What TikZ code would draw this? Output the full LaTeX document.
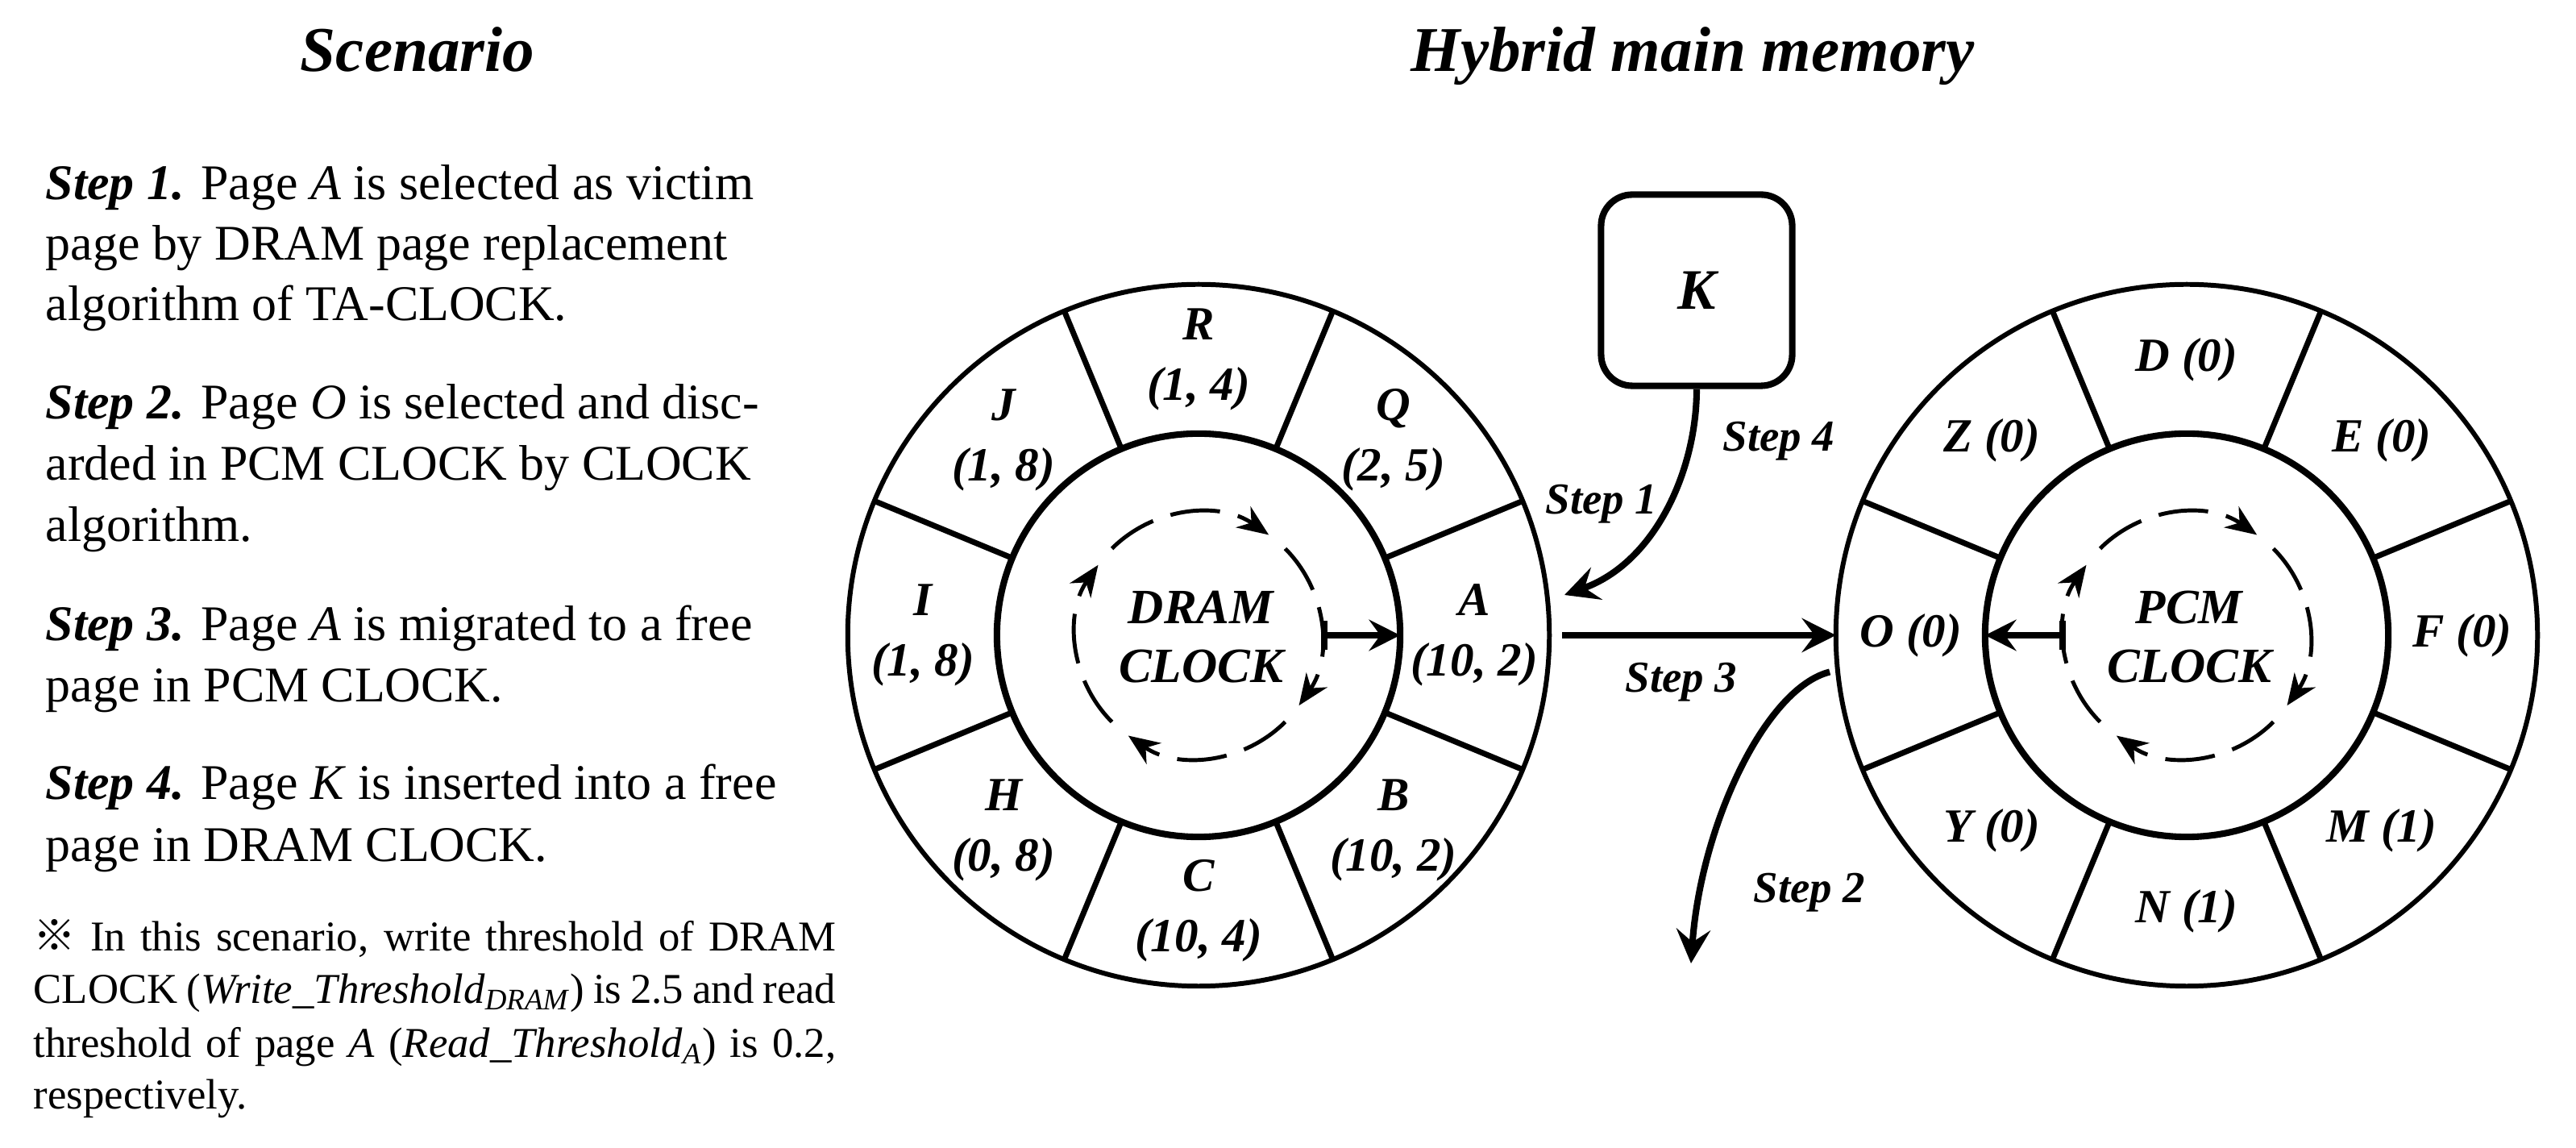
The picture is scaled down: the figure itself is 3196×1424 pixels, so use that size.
\documentclass[tikz,border=0pt]{standalone}
\usepackage{fontspec}
\setmainfont{Liberation Serif}
\newfontfamily\cjkfont{Noto Sans CJK SC}
\usetikzlibrary{arrows.meta}
\newcommand{\mystep}[1]{\textbf{\textit{#1}}}
\newcommand{\noteline}[1]{\makebox[9.95cm][s]{#1}}
\begin{document}
\begin{tikzpicture}[x=0.01cm,y=0.01cm,
  titlefont/.style={inner sep=0, anchor=base, font=\fontsize{22.5pt}{27pt}\selectfont\bfseries\itshape},
  bodyline/.style={anchor=base west, inner sep=0, font=\fontsize{17.6pt}{21.6pt}\selectfont},
  notestyle/.style={anchor=base west, inner sep=0, font=\fontsize{15pt}{18.5pt}\selectfont},
  seglabel/.style={inner sep=0, align=center, font=\fontsize{16.8pt}{21.3pt}\selectfont\bfseries\itshape},
  centerlabel/.style={inner sep=0, align=center, font=\fontsize{17.4pt}{20.8pt}\selectfont\bfseries\itshape},
  steplabel/.style={inner sep=0, font=\fontsize{15.6pt}{18pt}\selectfont\bfseries\itshape},
  outerring/.style={circle, draw, line width=1.7pt, minimum size=8.7cm, inner sep=0, outer sep=0},
  innerring/.style={circle, draw, line width=2.3pt, minimum size=5cm, inner sep=0, outer sep=0},
  divider/.style={line width=2pt},
  dashring/.style={line width=1.4pt, dash pattern=on 17.6pt off 6.5pt, -{Stealth[length=11pt,width=9pt,inset=3.5pt]}},
  arrowline/.style={line width=2.3pt, -{Stealth[length=12pt,width=12pt,inset=4.5pt]}},
  pointer/.style={line width=2.2pt, {Bar[width=10.5pt]}-{Stealth[length=11pt,width=11pt,inset=4pt]}},
  kboxstyle/.style={draw, line width=2.3pt, rounded corners=11pt, minimum size=2.37cm, inner sep=0, font=\fontsize{20.2pt}{24pt}\selectfont\bfseries\itshape}
]
\useasboundingbox (0,0) rectangle (3196,1424);
\fill[white] (0,0) rectangle (3196,1424);

% titles
\node[titlefont] (titleL) at (518,1335) {Scenario};
\node[titlefont] (titleR) at (2100,1335) {Hybrid main memory};

% scenario text
\node[bodyline] (s1a) at (56,1176) {\mystep{Step 1.} Page \textit{A} is selected as victim};
\node[bodyline] (s1b) at (56,1101) {page by DRAM page replacement};
\node[bodyline] (s1c) at (56,1026) {algorithm of TA-CLOCK.};
\node[bodyline] (s2a) at (56,904) {\mystep{Step 2.} Page \textit{O} is selected and disc-};
\node[bodyline] (s2b) at (56,828) {arded in PCM CLOCK by CLOCK};
\node[bodyline] (s2c) at (56,752) {algorithm.};
\node[bodyline] (s3a) at (56,629) {\mystep{Step 3.} Page \textit{A} is migrated to a free};
\node[bodyline] (s3b) at (56,553) {page in PCM CLOCK.};
\node[bodyline] (s4a) at (56,432) {\mystep{Step 4.} Page \textit{K} is inserted into a free};
\node[bodyline] (s4b) at (56,355) {page in DRAM CLOCK.};
\node[notestyle] (n1) at (41,244) {\noteline{{\cjkfont ※} In this scenario, write threshold of DRAM}};
\node[notestyle] (n2) at (41,179) {\noteline{CLOCK (\textit{Write\_Threshold}\textsubscript{\textit{DRAM}}) is 2.5 and read}};
\node[notestyle] (n3) at (41,112) {\noteline{threshold of page \textit{A} (\textit{Read\_Threshold}\textsubscript{\textit{A}}) is 0.2,}};
\node[notestyle] (n4) at (41,48) {respectively.};

% centres
\coordinate (dram) at (1487,636);
\coordinate (pcm) at (2713,636);

% rings
\node[outerring] (dramOuter) at (dram) {};
\node[innerring] (dramInner) at (dram) {};
\node[outerring] (pcmOuter) at (pcm) {};
\node[innerring] (pcmInner) at (pcm) {};

\foreach \c in {dram,pcm}{
  \foreach \a in {22.5,67.5,...,337.5}
    \draw[divider] (\c) ++(\a:250) -- ++(\a:185);
  \foreach \s/\e in {135/55,45/-35,-45/-125,225/145}
    \draw[dashring] (\c) ++(\s:152) arc[start angle=\s, end angle=\e, radius=152];
}

% centre labels
\node[centerlabel] (dramLabel) at (1490,634) {DRAM\\CLOCK};
\node[centerlabel] (pcmLabel) at (2716,634) {PCM\\CLOCK};

% pointers
\coordinate (dramPtr) at (1639,636);
\coordinate (pcmPtr) at (2563,636);
\draw[pointer] (dramPtr) -- (dramInner.east);
\draw[pointer] (pcmPtr) -- (pcmInner.west);

% DRAM segment labels
\path (dram) ++(90:342) node[seglabel] (dR) {R\\(1, 4)};
\path (dram) ++(45:342) node[seglabel] (dQ) {Q\\(2, 5)};
\path (dram) ++(0:342) node[seglabel] (dA) {A\\(10, 2)};
\path (dram) ++(-45:342) node[seglabel] (dB) {B\\(10, 2)};
\path (dram) ++(-90:342) node[seglabel] (dC) {C\\(10, 4)};
\path (dram) ++(-135:342) node[seglabel] (dH) {H\\(0, 8)};
\path (dram) ++(180:342) node[seglabel] (dI) {I\\(1, 8)};
\path (dram) ++(135:342) node[seglabel] (dJ) {J\\(1, 8)};

% PCM segment labels
\path (pcm) ++(90:342) node[seglabel] (pD) {D (0)};
\path (pcm) ++(45:342) node[seglabel] (pE) {E (0)};
\path (pcm) ++(0:342) node[seglabel] (pF) {F (0)};
\path (pcm) ++(-45:342) node[seglabel] (pM) {M (1)};
\path (pcm) ++(-90:342) node[seglabel] (pN) {N (1)};
\path (pcm) ++(-135:342) node[seglabel] (pY) {Y (0)};
\path (pcm) ++(180:342) node[seglabel] (pO) {O (0)};
\path (pcm) ++(135:342) node[seglabel] (pZ) {Z (0)};

% K box
\node[kboxstyle] (kbox) at (2105,1064) {K};

% step arrows
\coordinate (s1end) at (1941,686);
\coordinate (s2end) at (2098,229);
\draw[arrowline] (kbox.south) .. controls +(0,-100) and +(113,40) .. (s1end);
\draw[arrowline] ([xshift=0.16cm]dramOuter.east) -- (pcmOuter.west);
\draw[arrowline] ([xshift=-0.1cm]pcmOuter.186) .. controls +(-80,-20) and +(12,171) .. (s2end);

% step labels
\node[steplabel] (lab1) at (1987,799) {Step 1};
\node[steplabel] (lab4) at (2207,877) {Step 4};
\node[steplabel] (lab3) at (2086,578) {Step 3};
\node[steplabel] (lab2) at (2245,317) {Step 2};
\end{tikzpicture}
\end{document}
